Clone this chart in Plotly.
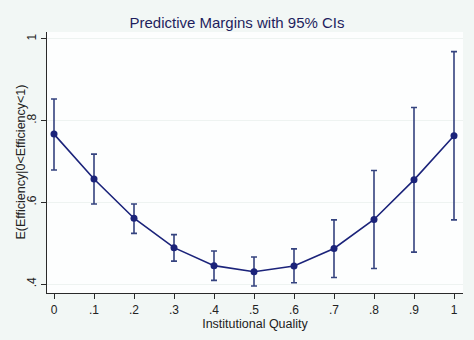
import plotly.graph_objects as go

# Predictive margins and 95% confidence limits by institutional quality
quality = [0.0, 0.1, 0.2, 0.3, 0.4, 0.5, 0.6, 0.7, 0.8, 0.9, 1.0]
margin = [0.767, 0.657, 0.561, 0.489, 0.445, 0.430, 0.444, 0.487, 0.558, 0.655, 0.763]
ci_upper = [0.853, 0.718, 0.596, 0.521, 0.481, 0.466, 0.486, 0.557, 0.678, 0.832, 0.969]
ci_lower = [0.679, 0.596, 0.524, 0.456, 0.409, 0.395, 0.403, 0.416, 0.438, 0.478, 0.557]

x_ticks = [0.0, 0.1, 0.2, 0.3, 0.4, 0.5, 0.6, 0.7, 0.8, 0.9, 1.0]
x_labels = ["0", ".1", ".2", ".3", ".4", ".5", ".6", ".7", ".8", ".9", "1"]
y_ticks = [0.4, 0.6, 0.8, 1.0]
y_labels = [".4", ".6", ".8", "1"]

navy = "#1b237a"
ci_col = "#35437f"

fig = go.Figure()

# confidence intervals with caps
fig.add_trace(go.Scatter(
    x=quality, y=margin, mode="markers",
    marker=dict(size=0.1, color="rgba(0,0,0,0)"),
    error_y=dict(type="data", symmetric=False,
                 array=[u - m for u, m in zip(ci_upper, margin)],
                 arrayminus=[m - l for m, l in zip(margin, ci_lower)],
                 color=ci_col, thickness=1.6, width=3),
    showlegend=False, hoverinfo="skip",
))

# margins line with markers
fig.add_trace(go.Scatter(
    x=quality, y=margin, mode="lines+markers",
    line=dict(color=navy, width=1.6),
    marker=dict(color=navy, size=7),
    showlegend=False,
))

font_family = "Liberation Sans, Arial, sans-serif"

# y-axis title placed as a rotated annotation in the left margin
fig.add_annotation(
    text="E(Efficiency|0<Efficiency<1)", textangle=-90,
    xref="paper", yref="paper", x=(20 - 47) / 416, y=0.5,
    xanchor="center", yanchor="middle", showarrow=False,
    font=dict(family=font_family, size=12.5, color="#222222"),
)

fig.update_layout(
    width=474, height=340,
    margin=dict(l=47, r=11, t=32, b=47),
    paper_bgcolor="#f2f7f5",
    plot_bgcolor="#fdfefe",
    font=dict(family=font_family, size=12, color="#222222"),
    title=dict(text="Predictive Margins with 95% CIs", x=0.5, xanchor="center",
               y=1 - 23 / 340, yanchor="middle",
               font=dict(family=font_family, size=15, color="#1e1e5e")),
    xaxis=dict(
        range=[-0.0175, 1.0225], tickvals=x_ticks, ticktext=x_labels,
        showgrid=False, zeroline=False,
        showline=True, linecolor="#2a2a2a", linewidth=1.2,
        ticks="outside", ticklen=5, tickcolor="#2a2a2a",
        tickfont=dict(size=12, color="#222222"),
        title=dict(text="Institutional Quality", standoff=0,
                   font=dict(size=12.5, color="#222222")),
    ),
    yaxis=dict(
        range=[0.378, 1.017], tickvals=y_ticks, ticktext=y_labels,
        tickangle=-90,
        showgrid=True, gridcolor="#eef3f1", gridwidth=1, zeroline=False,
        showline=True, linecolor="#2a2a2a", linewidth=1.2,
        ticks="outside", ticklen=5, tickcolor="#2a2a2a",
        tickfont=dict(size=12, color="#222222"),
    ),
)

fig.write_html("out.html")
